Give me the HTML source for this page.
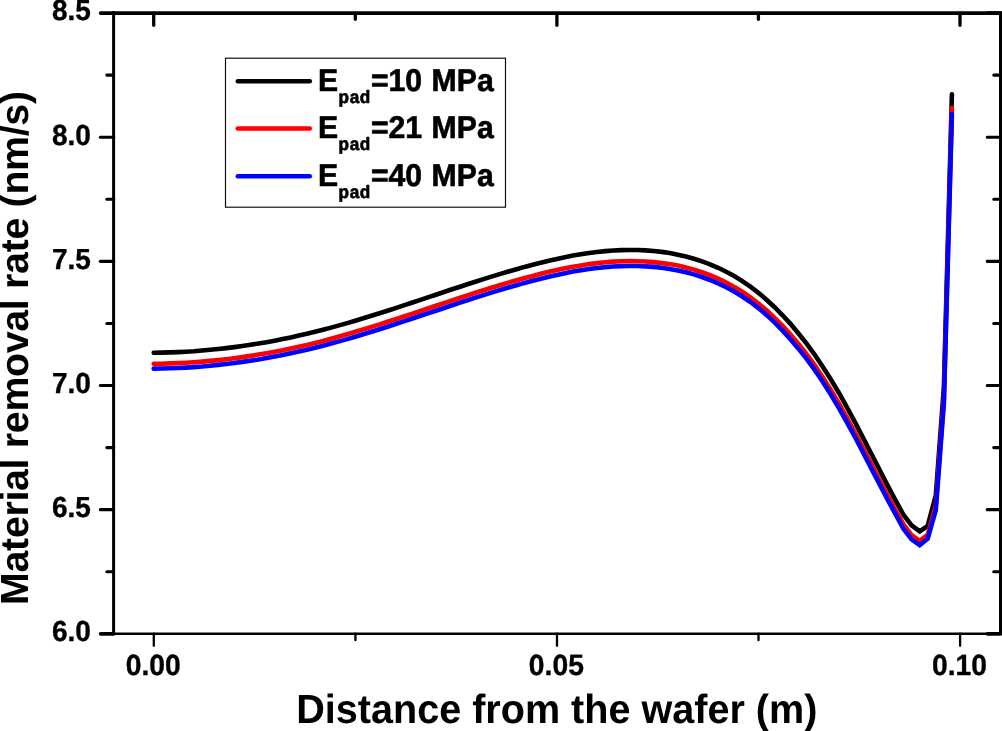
<!DOCTYPE html>
<html lang="en"><head><meta charset="utf-8"><title>Material removal rate vs distance from the wafer</title>
<style>
html,body{margin:0;padding:0;background:#fff;}
body{width:1002px;height:731px;overflow:hidden;position:relative;font-family:"Liberation Sans",Arial,Helvetica,sans-serif;}
svg{display:block}
</style></head><body>
<svg width="1002" height="731" viewBox="0 0 1002 731" style="position:absolute;left:0;top:0">
<rect width="1002" height="731" fill="#fff"/>
<path d="M153.7,352.7 L161.8,352.6 L169.8,352.4 L177.9,352.1 L186.0,351.7 L194.0,351.2 L202.1,350.5 L210.1,349.8 L218.2,349.0 L226.3,348.1 L234.3,347.1 L242.4,346.0 L250.5,344.8 L258.5,343.5 L266.6,342.2 L274.6,340.7 L282.7,339.1 L290.8,337.4 L298.8,335.6 L306.9,333.8 L315.0,331.8 L323.0,329.8 L331.1,327.6 L339.1,325.4 L347.2,323.1 L355.3,320.8 L363.3,318.3 L371.4,315.8 L379.5,313.3 L387.5,310.7 L395.6,308.1 L403.7,305.4 L411.7,302.8 L419.8,300.1 L427.8,297.4 L435.9,294.7 L444.0,292.0 L452.0,289.3 L460.1,286.7 L468.2,284.0 L476.2,281.5 L484.3,278.9 L492.3,276.4 L500.4,273.9 L508.5,271.5 L516.5,269.2 L524.6,266.9 L532.7,264.8 L540.7,262.7 L548.8,260.7 L556.9,258.9 L564.9,257.2 L573.0,255.6 L581.0,254.2 L589.1,253.0 L597.2,252.0 L605.2,251.1 L613.3,250.5 L621.4,250.1 L629.4,250.0 L637.5,250.0 L645.5,250.4 L653.6,251.0 L661.7,251.9 L669.7,253.1 L677.8,254.7 L685.9,256.5 L693.9,258.7 L702.0,261.3 L710.0,264.3 L718.1,267.8 L726.2,271.7 L734.2,276.1 L742.3,281.1 L750.4,286.7 L758.4,292.8 L766.5,299.7 L774.6,307.2 L782.6,315.3 L790.7,324.1 L798.7,333.7 L806.8,343.9 L814.9,355.0 L822.9,366.9 L831.0,379.6 L839.1,393.2 L847.1,407.6 L855.2,422.6 L863.2,438.1 L871.3,453.8 L879.4,469.5 L887.4,485.1 L895.5,500.3 L903.6,515.0 L911.6,525.3 L919.7,531.4 L927.7,525.8 L935.8,495.4 L943.9,386.8 L951.9,94.3" fill="none" stroke="#000" stroke-width="4.6" stroke-linecap="round" stroke-linejoin="miter"/>
<path d="M153.7,363.8 L161.8,363.7 L169.8,363.4 L177.9,363.1 L186.0,362.7 L194.0,362.2 L202.1,361.6 L210.1,360.9 L218.2,360.1 L226.3,359.2 L234.3,358.2 L242.4,357.1 L250.5,355.9 L258.5,354.6 L266.6,353.2 L274.6,351.7 L282.7,350.2 L290.8,348.5 L298.8,346.7 L306.9,344.9 L315.0,342.9 L323.0,340.9 L331.1,338.7 L339.1,336.5 L347.2,334.2 L355.3,331.8 L363.3,329.4 L371.4,326.9 L379.5,324.4 L387.5,321.8 L395.6,319.2 L403.7,316.5 L411.7,313.9 L419.8,311.2 L427.8,308.5 L435.9,305.8 L444.0,303.1 L452.0,300.4 L460.1,297.8 L468.2,295.1 L476.2,292.5 L484.3,290.0 L492.3,287.5 L500.4,285.0 L508.5,282.6 L516.5,280.3 L524.6,278.0 L532.7,275.9 L540.7,273.8 L548.8,271.8 L556.9,270.0 L564.9,268.3 L573.0,266.7 L581.0,265.4 L589.1,264.1 L597.2,263.1 L605.2,262.3 L613.3,261.6 L621.4,261.2 L629.4,261.1 L637.5,261.2 L645.5,261.5 L653.6,262.1 L661.7,263.0 L669.7,264.1 L677.8,265.6 L685.9,267.5 L693.9,269.6 L702.0,272.2 L710.0,275.2 L718.1,278.6 L726.2,282.5 L734.2,286.9 L742.3,291.8 L750.4,297.3 L758.4,303.5 L766.5,310.3 L774.6,317.8 L782.6,325.9 L790.7,334.7 L798.7,344.3 L806.8,354.5 L814.9,365.6 L822.9,377.4 L831.0,390.1 L839.1,403.7 L847.1,418.0 L855.2,433.0 L863.2,448.3 L871.3,463.9 L879.4,479.5 L887.4,494.9 L895.5,510.0 L903.6,524.7 L911.6,535.1 L919.7,540.9 L927.7,534.8 L935.8,505.5 L943.9,398.1 L951.9,107.9" fill="none" stroke="#f00" stroke-width="4.6" stroke-linecap="round" stroke-linejoin="miter"/>
<path d="M153.7,368.6 L161.8,368.5 L169.8,368.3 L177.9,368.0 L186.0,367.6 L194.0,367.1 L202.1,366.5 L210.1,365.7 L218.2,364.9 L226.3,364.0 L234.3,363.0 L242.4,361.9 L250.5,360.7 L258.5,359.5 L266.6,358.1 L274.6,356.6 L282.7,355.0 L290.8,353.3 L298.8,351.6 L306.9,349.7 L315.0,347.8 L323.0,345.7 L331.1,343.6 L339.1,341.4 L347.2,339.1 L355.3,336.7 L363.3,334.3 L371.4,331.8 L379.5,329.2 L387.5,326.7 L395.6,324.0 L403.7,321.4 L411.7,318.7 L419.8,316.0 L427.8,313.4 L435.9,310.7 L444.0,308.0 L452.0,305.3 L460.1,302.6 L468.2,300.0 L476.2,297.4 L484.3,294.9 L492.3,292.4 L500.4,289.9 L508.5,287.5 L516.5,285.2 L524.6,282.9 L532.7,280.8 L540.7,278.7 L548.8,276.7 L556.9,274.9 L564.9,273.2 L573.0,271.6 L581.0,270.2 L589.1,269.0 L597.2,268.0 L605.2,267.1 L613.3,266.5 L621.4,266.1 L629.4,266.0 L637.5,266.0 L645.5,266.4 L653.6,266.9 L661.7,267.8 L669.7,269.0 L677.8,270.5 L685.9,272.3 L693.9,274.4 L702.0,277.0 L710.0,280.0 L718.1,283.4 L726.2,287.2 L734.2,291.6 L742.3,296.5 L750.4,302.0 L758.4,308.1 L766.5,314.9 L774.6,322.4 L782.6,330.6 L790.7,339.4 L798.7,348.9 L806.8,359.2 L814.9,370.2 L822.9,382.0 L831.0,394.7 L839.1,408.3 L847.1,422.6 L855.2,437.5 L863.2,452.8 L871.3,468.4 L879.4,483.9 L887.4,499.2 L895.5,514.2 L903.6,529.0 L911.6,539.4 L919.7,545.1 L927.7,538.7 L935.8,510.0 L943.9,403.0 L951.9,113.9" fill="none" stroke="#00f" stroke-width="4.6" stroke-linecap="round" stroke-linejoin="miter"/>
<g stroke="#000" fill="none">
<line x1="113.6" y1="11.200000000000001" x2="113.6" y2="634.9" stroke-width="3"/>
<line x1="1000.5" y1="11.200000000000001" x2="1000.5" y2="634.9" stroke-width="3"/>
<line x1="113.6" y1="13.05" x2="1000.5" y2="13.05" stroke-width="3.7"/>
<line x1="113.6" y1="633.75" x2="1000.5" y2="633.75" stroke-width="2.3"/>
<g stroke-linecap="round">
<line x1="100.65" y1="633.80" x2="113.6" y2="633.80" stroke-width="3.7"/>
<line x1="987.55" y1="633.80" x2="1000.5" y2="633.80" stroke-width="3.7"/>
<line x1="106.85" y1="571.73" x2="113.6" y2="571.73" stroke-width="3.1"/>
<line x1="993.75" y1="571.73" x2="1000.5" y2="571.73" stroke-width="3.1"/>
<line x1="100.35" y1="509.65" x2="113.6" y2="509.65" stroke-width="3.1"/>
<line x1="987.25" y1="509.65" x2="1000.5" y2="509.65" stroke-width="3.1"/>
<line x1="106.85" y1="447.58" x2="113.6" y2="447.58" stroke-width="3.1"/>
<line x1="993.75" y1="447.58" x2="1000.5" y2="447.58" stroke-width="3.1"/>
<line x1="100.35" y1="385.50" x2="113.6" y2="385.50" stroke-width="3.1"/>
<line x1="987.25" y1="385.50" x2="1000.5" y2="385.50" stroke-width="3.1"/>
<line x1="106.85" y1="323.43" x2="113.6" y2="323.43" stroke-width="3.1"/>
<line x1="993.75" y1="323.43" x2="1000.5" y2="323.43" stroke-width="3.1"/>
<line x1="100.35" y1="261.35" x2="113.6" y2="261.35" stroke-width="3.1"/>
<line x1="987.25" y1="261.35" x2="1000.5" y2="261.35" stroke-width="3.1"/>
<line x1="106.85" y1="199.28" x2="113.6" y2="199.28" stroke-width="3.1"/>
<line x1="993.75" y1="199.28" x2="1000.5" y2="199.28" stroke-width="3.1"/>
<line x1="100.35" y1="137.20" x2="113.6" y2="137.20" stroke-width="3.1"/>
<line x1="987.25" y1="137.20" x2="1000.5" y2="137.20" stroke-width="3.1"/>
<line x1="106.85" y1="75.12" x2="113.6" y2="75.12" stroke-width="3.1"/>
<line x1="993.75" y1="75.12" x2="1000.5" y2="75.12" stroke-width="3.1"/>
<line x1="100.65" y1="13.05" x2="113.6" y2="13.05" stroke-width="3.7"/>
<line x1="987.55" y1="13.05" x2="1000.5" y2="13.05" stroke-width="3.7"/>
<line x1="153.8" y1="633.75" x2="153.8" y2="645.80" stroke-width="2.3"/>
<line x1="153.7" y1="13.05" x2="153.7" y2="25.30" stroke-width="3.3"/>
<line x1="355.4" y1="633.75" x2="355.4" y2="640.20" stroke-width="2.3"/>
<line x1="355.3" y1="13.05" x2="355.3" y2="19.30" stroke-width="3.3"/>
<line x1="557.0" y1="633.75" x2="557.0" y2="645.80" stroke-width="2.3"/>
<line x1="556.9" y1="13.05" x2="556.9" y2="25.30" stroke-width="3.3"/>
<line x1="758.5" y1="633.75" x2="758.5" y2="640.20" stroke-width="2.3"/>
<line x1="758.4" y1="13.05" x2="758.4" y2="19.30" stroke-width="3.3"/>
<line x1="960.1" y1="633.75" x2="960.1" y2="645.80" stroke-width="2.3"/>
<line x1="960.0" y1="13.05" x2="960.0" y2="25.30" stroke-width="3.3"/>
</g>
</g>
<g font-family="Liberation Sans, Arial, Helvetica, sans-serif" font-weight="bold" text-rendering="geometricPrecision" fill="#000" stroke="#000" stroke-width="0.35" stroke-linejoin="round">
<text transform="translate(90.9,641.0) scale(1,1.035)" font-size="28.0" text-anchor="end">6.0</text>
<text transform="translate(90.9,517.0) scale(1,1.035)" font-size="28.0" text-anchor="end">6.5</text>
<text transform="translate(90.9,393.0) scale(1,1.035)" font-size="28.0" text-anchor="end">7.0</text>
<text transform="translate(90.9,269.0) scale(1,1.035)" font-size="28.0" text-anchor="end">7.5</text>
<text transform="translate(90.9,145.0) scale(1,1.035)" font-size="28.0" text-anchor="end">8.0</text>
<text transform="translate(90.9,20.0) scale(1,1.035)" font-size="28.0" text-anchor="end">8.5</text>
<text transform="translate(153.2,675.0) scale(1,1.035)" font-size="28.3" text-anchor="middle">0.00</text>
<text transform="translate(556.4,675.0) scale(1,1.035)" font-size="28.3" text-anchor="middle">0.05</text>
<text transform="translate(959.5,675.0) scale(1,1.035)" font-size="28.3" text-anchor="middle">0.10</text>
<text transform="translate(556.8,723.0) scale(1,1.03)" font-size="39.6" text-anchor="middle" stroke="none">Distance from the wafer (m)</text>
<text transform="translate(28.4,348.1) rotate(-90)" font-size="39.3" text-anchor="middle" letter-spacing="-0.3" stroke="none">Material removal rate (nm/s)</text>
</g>
<rect x="225.5" y="58.2" width="280" height="149" fill="#fff" stroke="#111" stroke-width="1.2"/>
<g font-family="Liberation Sans, Arial, Helvetica, sans-serif" font-weight="bold" text-rendering="geometricPrecision" fill="#000" stroke="#000" stroke-width="0.6" stroke-linejoin="round">
<line x1="237.8" y1="81.2" x2="309.8" y2="81.2" stroke="#000" stroke-width="4.5" stroke-linecap="round"/>
<text transform="translate(0,91.0) scale(1,1.04)" font-size="30.2"><tspan x="317.9">E</tspan><tspan x="338.6" font-size="17.2" letter-spacing="0.55" dy="11.63">pad</tspan><tspan x="370.9" dy="-11.63">=10</tspan><tspan x="431.6">MPa</tspan></text>
<line x1="237.8" y1="128.5" x2="309.8" y2="128.5" stroke="#f00" stroke-width="4.5" stroke-linecap="round"/>
<text transform="translate(0,138.2) scale(1,1.04)" font-size="30.2"><tspan x="317.9">E</tspan><tspan x="338.6" font-size="17.2" letter-spacing="0.55" dy="11.63">pad</tspan><tspan x="370.9" dy="-11.63">=21</tspan><tspan x="431.6">MPa</tspan></text>
<line x1="237.8" y1="176.2" x2="309.8" y2="176.2" stroke="#00f" stroke-width="4.5" stroke-linecap="round"/>
<text transform="translate(0,185.9) scale(1,1.04)" font-size="30.2"><tspan x="317.9">E</tspan><tspan x="338.6" font-size="17.2" letter-spacing="0.55" dy="11.63">pad</tspan><tspan x="370.9" dy="-11.63">=40</tspan><tspan x="431.6">MPa</tspan></text>
</g>
</svg>
</body></html>
